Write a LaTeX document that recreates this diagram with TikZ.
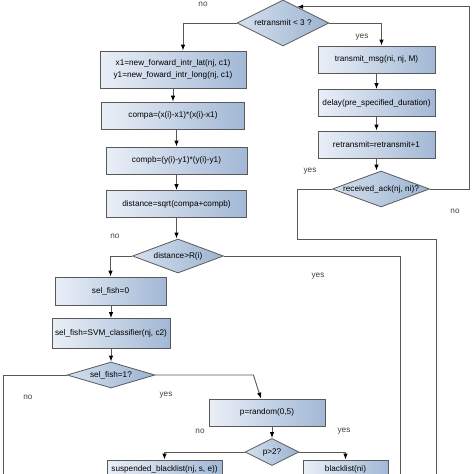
\documentclass[tikz,border=0pt]{standalone}
\usepackage{fontspec}
\setmainfont{Liberation Sans}
\usetikzlibrary{shapes.geometric,arrows.meta}

\definecolor{boxlight}{HTML}{EAEFF7}
\definecolor{boxdark}{HTML}{A2B8D5}
\definecolor{dialight}{HTML}{D5E0EE}
\definecolor{diadark}{HTML}{9CB3D1}
\definecolor{edgegray}{HTML}{595959}

\begin{document}
\begin{tikzpicture}[x=1pt,y=-1pt,node distance=45pt,
    font=\fontsize{8.2}{12}\selectfont,
    flow/.style={draw=edgegray,line width=0.9pt},
    arr/.style={flow,-{Latex[length=6pt,width=4.5pt,color=black]}},
    proc/.style={rectangle,draw=edgegray,line width=0.8pt,left color=boxlight,
        right color=boxdark,minimum height=27pt,inner sep=2pt,align=center},
    test/.style={diamond,draw=edgegray,line width=0.8pt,left color=dialight,
        right color=diadark,inner sep=0pt},
    lbl/.style={text=black!75}]

\useasboundingbox (0,0) rectangle (474,474);

% left column
\node[test,minimum width=92pt,minimum height=46pt,aspect=2] (retr) at (283,23) {retransmit < 3 ?};
\node[proc,minimum width=146pt,minimum height=37pt] (newpos) at (173,69.5)
    {x1=new\_forward\_intr\_lat(nj, c1)\\y1=new\_foward\_intr\_long(nj, c1)};
\node[proc,minimum width=143pt] (compa) [below of=newpos,node distance=46pt] {compa=(x(i)-x1)*(x(i)-x1)};
\node[proc,minimum width=141pt] (compb) [below of=compa,xshift=3.5pt] {compb=(y(i)-y1)*(y(i)-y1)};
\node[proc,minimum width=140pt] (dist) [below of=compb,node distance=43.5pt] {distance=sqrt(compa+compb)};
\node[test,minimum width=91pt,minimum height=34pt,aspect=2.7] (far) at (178,256) {distance>R(i)};
\node[proc,minimum width=111pt,minimum height=28pt] (selzero) at (110.5,291) {sel\_fish=0};
\node[proc,minimum width=118pt,minimum height=30pt] (svm) at (111,333.5) {sel\_fish=SVM\_classifier(nj, c2)};
\node[test,minimum width=88pt,minimum height=26pt,aspect=3.4] (selone) at (111,375) {sel\_fish=1?};
\node[proc,minimum width=116pt] (prand) at (267,412.5) {p=random(0,5)};
\node[test,minimum width=54pt,minimum height=27pt,aspect=2] (pgt) at (272,452) {p>2?};
% bottom boxes run off the page, text kept high
\node[proc,minimum width=115pt,minimum height=28pt,text depth=10pt] (susp) at (164.5,474) {suspended\_blacklist(nj, s, e))};
\node[proc,minimum width=85pt,minimum height=28pt,text depth=10pt] (black) at (345.5,474) {blacklist(ni)};

% right column
\node[proc,minimum width=117pt] (transmit) at (376.5,59.5) {transmit\_msg(ni, nj, M)};
\node[proc,minimum width=117pt] (delay) [below of=transmit,node distance=43.5pt] {delay(pre\_specified\_duration)};
\node[proc,minimum width=117pt] (retrans) [below of=delay,node distance=41.5pt] {retransmit=retransmit+1};
\node[test,minimum width=97pt,minimum height=36pt,aspect=2.7] (ack) at (381,189) {received\_ack(nj, ni)?};

\coordinate (ackend) at (436,480);
\coordinate (farend) at (400,480);
\coordinate (selend) at (3,480);

% branch labels
\node[lbl] (noretr) at (203,4) {no};
\node[lbl] (yesretr) at (362,37) {yes};
\node[lbl] (yesack) at (310,171) {yes};
\node[lbl] (noack) at (455,211) {no};
\node[lbl] (nofar) at (115,236) {no};
\node[lbl] (yesfar) at (318,276) {yes};
\node[lbl] (nosel) at (28,397) {no};
\node[lbl] (yessel) at (166,395) {yes};
\node[lbl] (nopgt) at (200,431) {no};
\node[lbl] (yespgt) at (344,431) {yes};

% connectors
\draw[arr] (retr.west) -| ([xshift=10pt]newpos.north);
\draw[arr] (newpos) -- (compa);
\draw[arr] (compa.south -| compb.north) -- (compb.north);
\draw[arr] (compb) -- (dist);
\draw[arr] (dist.south) -- (dist.south |- far.north);
\draw[arr] (far.west) -| (selzero.north);
\draw[arr] (selzero.south -| svm.north) -- (svm.north);
\draw[arr] (svm) -- (selone);
\draw[flow] (selone.west) -| (selend);
\draw[arr] (selone.east) -- ++(98,0) -- ([xshift=-6pt]prand.north);
\draw[arr] (prand.south -| pgt.north) -- (pgt.north);
\draw[arr] (pgt.east) -| (black.north);
\draw[arr] (pgt.west) -| (susp.north);
\draw[flow] (far.east) -| (farend);

\draw[arr] (retr.east) -| ([xshift=5pt]transmit.north);
\draw[arr] (transmit) -- (delay);
\draw[arr] (delay) -- (retrans);
\draw[arr] (retrans.south) -- (retrans.south |- ack.north);
\draw[arr] (ack.east) -- ++(40,0) |- (retr.49);
\draw[flow] (ack.west) -- ++(-35,0) -- ++(0,50) -| (ackend);

\end{tikzpicture}
\end{document}
